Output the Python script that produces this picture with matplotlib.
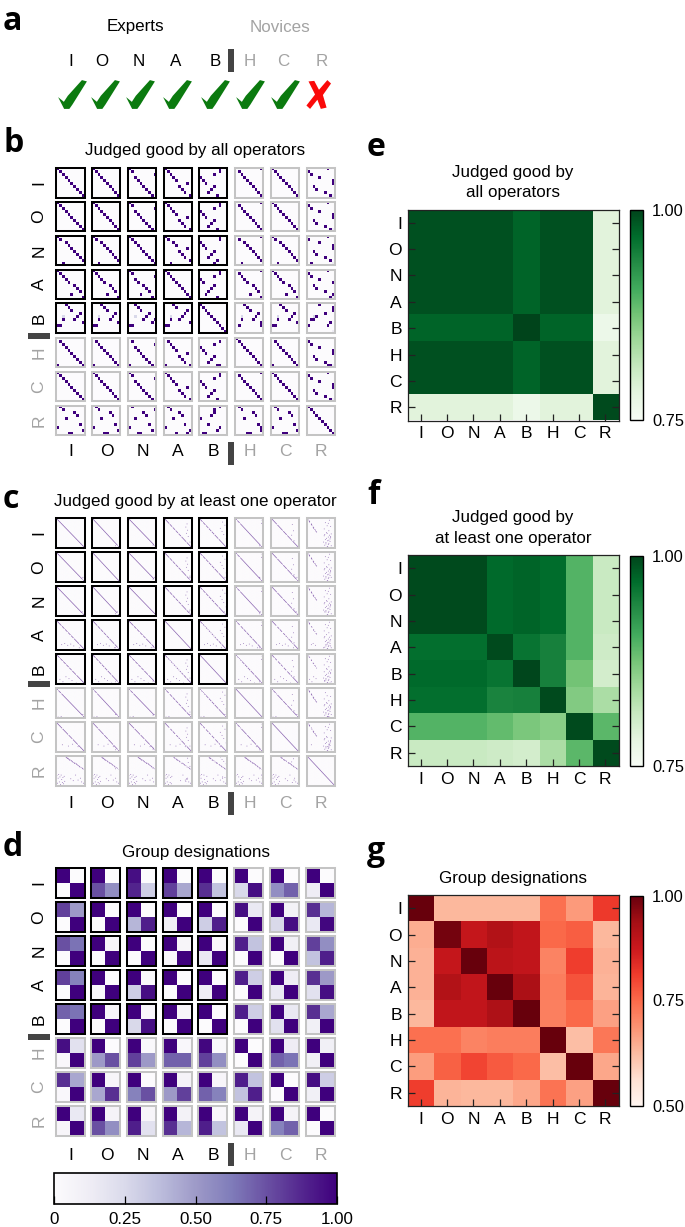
import numpy as np
import matplotlib
matplotlib.use("Agg")
import matplotlib.pyplot as plt
from matplotlib.path import Path
from matplotlib.patches import Rectangle

plt.rcParams['font.family'] = ['Liberation Sans', 'DejaVu Sans']

W, H = 685, 1227
operators = ['I', 'O', 'N', 'A', 'B', 'H', 'C', 'R']
n_experts = 5
verdicts = [1, 1, 1, 1, 1, 1, 1, 0]
GRAY = '#a3a3a3'
BAR = '#444444'
CELL_BORDER = '#c4c4c4'

# panel b: group index of each of ten units under each operator
b_labels = {
    'I': [0, 1, 2, 3, 4, 5, 6, 7, 8, 9],
    'O': [0, 1, 2, 3, 4, 5, 6, 7, 8, 9],
    'N': [0, 1, 9, 2, 3, 4, 5, 6, 7, 8],
    'A': [0, 1, 2, 3, 4, 8, 5, 6, 7, 9],
    'B': [7, 7, 5, 0, 1, 2, 5, 4, 3, 6],
    'H': [9, 1, 2, 3, 4, 5, 6, 7, 8, 9],
    'C': [0, 1, 2, 3, 4, 5, 6, 7, 8, 9],
    'R': [7, 0, 1, 4, 9, 9, 2, 3, 6, 8],
}

# panel c: position of each of 48 units in each operator's ordering
c_ranks = {
    'I': [0, 1, 2, 3, 4, 5, 6, 7, 8, 9, 10, 11, 12, 13, 14, 15, 16, 17, 18, 19, 20, 21, 22, 23,
          24, 25, 26, 27, 28, 29, 30, 31, 32, 33, 34, 35, 36, 37, 38, 39, 40, 41, 42, 43, 44, 45, 46, 47],
    'O': [0, 1, 2, 3, 4, 5, 6, 7, 8, 9, 10, 11, 12, 13, 14, 15, 16, 17, 18, 19, 20, 21, 22, 23,
          24, 25, 26, 27, 28, 29, 30, 31, 32, 33, 34, 35, 36, 37, 38, 39, 40, 41, 42, 43, 40, 45, 46, 47],
    'N': [0, 1, 2, 3, 4, 5, 6, 7, 8, 9, 10, 11, 12, 13, 14, 15, 16, 17, 18, 19, 20, 21, 22, 23,
          24, 25, 26, 27, 28, 29, 30, 31, 32, 33, 34, 35, 36, 37, 38, 39, 40, 41, 42, 41, 44, 45, 46, 47],
    'A': [0, 1, 2, 3, 4, 5, 6, 7, 8, 39, 10, 11, 12, 13, 37, 15, 16, 17, 18, 40, 20, 21, 22, 23,
          38, 25, 26, 27, 28, 41, 30, 31, 32, 33, 34, 35, 36, 37, 44, 39, 40, 41, 42, 43, 44, 45, 46, 47],
    'B': [0, 1, 2, 3, 4, 5, 40, 7, 8, 9, 10, 44, 12, 13, 14, 15, 36, 17, 18, 19, 20, 39, 22, 23,
          24, 25, 42, 27, 28, 29, 30, 31, 32, 46, 34, 35, 36, 37, 38, 39, 40, 41, 42, 43, 44, 45, 46, 47],
    'H': [0, 1, 2, 46, 4, 5, 6, 7, 45, 9, 10, 11, 12, 13, 14, 15, 16, 17, 18, 19, 20, 21, 22, 23,
          24, 25, 26, 27, 28, 29, 30, 31, 32, 33, 34, 35, 36, 37, 38, 39, 40, 41, 42, 43, 42, 45, 46, 47],
    'C': [0, 1, 2, 3, 4, 5, 6, 7, 8, 9, 36, 11, 12, 13, 14, 15, 16, 17, 18, 19, 38, 21, 22, 23,
          24, 25, 26, 35, 28, 29, 30, 31, 32, 33, 34, 35, 39, 37, 38, 39, 40, 41, 42, 43, 44, 45, 46, 47],
    'R': [0, 1, 1, 38, 3, 4, 4, 31, 36, 7, 7, 8, 34, 40, 10, 11, 11, 29, 13, 14, 37, 15, 16, 33,
          34, 41, 30, 38, 29, 40, 36, 40, 33, 39, 31, 37, 35, 39, 28, 32, 37, 32, 36, 30, 41, 35, 34, 38],
}
# operator R read as a row differs from R read as a column in the picture
c_R_as_row = [38, 31, 43, 35, 29, 41, 33, 45, 30, 37, 42, 34, 44, 32, 40, 0, 1, 2, 3, 3, 4, 5, 6, 6,
              36, 7, 8, 9, 39, 10, 11, 11, 30, 12, 13, 14, 38, 15, 16, 17, 35, 18, 41, 19, 20, 43, 21, 37]

# panel d: 2x2 group confusion matrices, row operator by column operator, as
# (top left, top right, bottom left, bottom right)
d_cells = [
    [(1, 0, 0, 1), (1, 0, .75, .55), (.95, 0, .88, .3), (1, 0, .8, .45), (1, 0, .85, .35), (1, 0, .25, .95), (1, 0, .55, .7), (1, 0, .12, 1)],
    [(.8, .5, 0, 1), (1, 0, 0, 1), (1, 0, .4, .9), (1, 0, .1, 1), (1, 0, .3, .9), (.95, .15, 0, 1), (1, .08, .25, .95), (.85, .4, .15, .98)],
    [(.75, .65, 0, 1), (1, .05, 0, 1), (1, 0, 0, 1), (1, .05, .03, 1), (1, .03, .15, 1), (.9, .35, 0, 1), (1, .1, 0, 1), (.8, .55, .35, .9)],
    [(.8, .6, 0, 1), (1, 0, .02, 1), (1, .02, .3, .95), (1, 0, 0, 1), (1, 0, .12, 1), (.9, .3, 0, 1), (1, .12, .15, 1), (.85, .5, .2, .95)],
    [(.7, .65, 0, 1), (1, .05, 0, 1), (1, .03, .25, .95), (1, .05, 0, 1), (1, 0, 0, 1), (.9, .3, 0, 1), (1, .15, .2, 1), (.85, .45, .1, 1)],
    [(.95, .2, .03, 1), (1, 0, .5, .75), (1, .02, .8, .5), (1, .03, .7, .7), (.98, .02, .8, .55), (1, 0, 0, 1), (1, .12, .7, .65), (1, .1, .1, 1)],
    [(.85, .45, .03, 1), (1, .05, .45, .85), (1, 0, .6, .75), (1, .07, .5, .8), (1, .05, .7, .6), (.9, .35, .35, .9), (1, 0, 0, 1), (.95, .3, .1, 1)],
    [(1, .15, .05, 1), (1, .07, .75, .55), (1, .05, .9, .2), (1, .08, .85, .4), (1, .03, .9, .35), (1, .07, .15, 1), (1, .07, .6, .7), (1, 0, 0, 1)],
]

e_values = [
    [.99, .99, .99, .99, .975, .99, .99, .785],
    [.99, .99, .99, .99, .975, .99, .99, .785],
    [.99, .99, .99, .99, .975, .99, .99, .785],
    [.99, .99, .99, .99, .975, .99, .99, .785],
    [.975, .975, .975, .975, 1.0, .975, .975, .768],
    [.99, .99, .99, .99, .975, .99, .99, .785],
    [.99, .99, .99, .99, .975, .99, .99, .785],
    [.785, .785, .785, .785, .768, .785, .785, .995],
]
f_values = [
    [.995, .995, .995, .97, .975, .968, .895, .81],
    [.995, .995, .995, .97, .975, .968, .895, .81],
    [.995, .995, .995, .97, .975, .968, .895, .81],
    [.965, .965, .965, .995, .96, .948, .895, .805],
    [.97, .97, .97, .96, .998, .948, .875, .80],
    [.965, .965, .965, .945, .948, .995, .865, .835],
    [.895, .895, .895, .885, .87, .86, .995, .89],
    [.81, .81, .81, .805, .80, .835, .89, .995],
]
g_values = [
    [1.0, .63, .63, .63, .63, .74, .675, .815],
    [.645, .985, .885, .915, .89, .75, .765, .63],
    [.64, .885, 1.0, .90, .89, .71, .81, .64],
    [.64, .915, .89, 1.0, .925, .72, .78, .635],
    [.63, .89, .89, .92, 1.0, .715, .75, .665],
    [.74, .74, .71, .72, .72, 1.0, .62, .73],
    [.67, .76, .80, .77, .75, .62, 1.0, .655],
    [.81, .635, .63, .63, .655, .735, .665, 1.0],
]

fig = plt.figure(figsize=(W / 100, H / 100), dpi=100)


def px_axes(x0, y0, x1, y1, **kw):
    return fig.add_axes([x0 / W, 1 - y1 / H, (x1 - x0) / W, (y1 - y0) / H], **kw)


def label(x, y, s, size=12.25, color='black', **kw):
    kw.setdefault('ha', 'center')
    kw.setdefault('va', 'center')
    fig.text(x / W, 1 - y / H, s, fontsize=size, color=color, **kw)


def bar(x0, y0, x1, y1):
    fig.add_artist(Rectangle((x0 / W, 1 - y1 / H), (x1 - x0) / W, (y1 - y0) / H,
                             transform=fig.transFigure, facecolor=BAR, edgecolor='none'))


# ---- panel a
label(135, 27, 'Experts')
label(280, 27, 'Novices', color=GRAY)
a_x = [71, 102, 139, 176, 215, 250, 283, 322]
mark_x = [72, 105, 140, 177, 215, 250, 285, 319]
for k, (x, name) in enumerate(zip(a_x, operators)):
    label(x, 62, name, color='black' if k < n_experts else GRAY)
bar(228, 49, 233.5, 72)
overlay = px_axes(0, 0, W, H)
overlay.set_xlim(0, W)
overlay.set_ylim(H, 0)
overlay.axis('off')
overlay.set_zorder(5)
check = Path([(-.55, -.1), (-.33, -.28), (-.18, -.05), (.36, .55), (.55, .5), (.0, -.38),
              (-.12, -.55), (-.32, -.55), (-.55, -.1)], closed=True)
cross = Path([(-.42, .5), (-.2, .52), (-.02, .18), (.3, .55), (.44, .42), (.13, -.02), (.27, -.5),
              (.05, -.55), (-.08, -.2), (-.36, -.55), (-.5, -.42), (-.17, 0), (-.42, .5)], closed=True)
for x, v in zip(mark_x, verdicts):
    overlay.scatter([x], [93.5], marker=check if v else cross, s=430 if v else 430,
                    color='#0b7a0f' if v else '#fa0a0a', linewidths=0)

# ---- panel letters
for s, x, y in [('a', 3, 18), ('b', 3, 139), ('c', 3, 495), ('d', 3, 843),
                ('e', 367, 144), ('f', 367, 491), ('g', 367, 847)]:
    label(x, y, s, size=23, family='Open Sans', weight='bold', ha='left', va='center_baseline')


def b_matrix(i, j):
    n = 10
    m = np.zeros((n, n))
    if i == j:
        return np.eye(n)
    for r, c in zip(b_labels[operators[i]], b_labels[operators[j]]):
        m[r, c] = 1
    if i == 4:
        m[4, 2] = max(m[4, 2], .25)
    if j == 7:
        m[9, 9] = max(m[9, 9], .12)
    return m


def c_matrix(i, j):
    n = 48
    m = np.zeros((n, n))
    if i == j:
        return np.eye(n)
    rows = c_R_as_row if i == 7 else c_ranks[operators[i]]
    for r, c in zip(rows, c_ranks[operators[j]]):
        m[r, c] = 1
    return m


def d_matrix(i, j):
    tl, tr, bl, br = d_cells[i][j]
    return np.array([[tl, tr], [bl, br]])


col_x0 = [55.5, 91, 127, 162.5, 198, 234, 270, 305.5]
CW = 30
INSET = 1.0


def grid(matfun, y0, y_step, interp, title, title_y, label_y, bar_y, row_bar_y, x_off=0, cell_h=31.5, lw=1.45, vmax=1.0, cw=CW):
    for i in range(8):
        for j in range(8):
            x = col_x0[j] + x_off
            y = y0[i] if hasattr(y0, '__len__') else y0 + i * y_step
            ax = px_axes(x + INSET, y + INSET, x + cw - INSET, y + cell_h - INSET)
            ax.imshow(matfun(i, j), cmap='Purples', vmin=0, vmax=vmax, interpolation=interp, aspect='auto')
            ax.set_xticks([])
            ax.set_yticks([])
            expert = i < n_experts and j < n_experts
            for sp in ax.spines.values():
                sp.set_linewidth(lw)
                sp.set_color('black' if expert else CELL_BORDER)
            ax.set_zorder(2 if expert else 1)
    label(195.5, title_y, title)
    first = y0[0] if hasattr(y0, '__len__') else y0
    for k, name in enumerate(operators):
        c = 'black' if k < n_experts else GRAY
        label(col_x0[k] + CW / 2 + .5, label_y, name, color=c, size=12.6)
        yy = (y0[k] if hasattr(y0, '__len__') else first + k * y_step) + cell_h / 2
        label(39, yy, name, color=c, rotation=90, size=12.6)
    bar(228, bar_y, 233.5, bar_y + 23)
    bar(28, row_bar_y - 3, 49.5, row_bar_y + 3)


grid(b_matrix, [167, 200.7, 234.7, 268.7, 302.5, 336.7, 370.7, 404.7], 0, 'nearest',
     'Judged good by all operators', 151, 452, 442, 335.5)
grid(c_matrix, 517.3, 34, 'antialiased', 'Judged good by at least one operator', 501, 803, 792, 684, vmax=.7)
grid(d_matrix, 867.3, 34, 'nearest', 'Group designations', 853, 1155, 1143, 1037, x_off=-1, cw=31)

# ---- purple colour bar
cax = px_axes(54, 1173, 337, 1204)
sm = plt.cm.ScalarMappable(norm=plt.Normalize(0, 1), cmap='Purples')
cb = fig.colorbar(sm, cax=cax, orientation='horizontal', ticks=[0, .25, .5, .75, 1])
cb.ax.set_xticklabels(['0', '0.25', '0.50', '0.75', '1.00'], fontsize=12.25)
cb.ax.tick_params(axis='x', direction='in', length=6, width=.9, pad=6, color='black')
cb.outline.set_linewidth(1.2)


# ---- heat maps
def heat(vals, y0, cmap, vmin, ticks, ticklabels, title, title_ys):
    ax = px_axes(407.5, y0, 618.5, y0 + 211)
    im = ax.imshow(np.array(vals), cmap=cmap, vmin=vmin, vmax=1.0, interpolation='nearest', aspect='auto')
    ax.set_xticks(range(8), operators, fontsize=12.6)
    ax.set_yticks(range(8), operators, fontsize=12.6)
    ax.tick_params(direction='in', length=5, width=.9, left=True, right=True, bottom=True, top=False, pad=4,
                   color='#222222')
    for sp in ax.spines.values():
        sp.set_linewidth(.9)
        sp.set_color('#222222')
    for t, yy in zip(title, title_ys):
        label(513, yy, t)
    c = px_axes(630, y0 + .5, 642.5, y0 + 210.5)
    cbar = fig.colorbar(im, cax=c, ticks=ticks)
    cbar.ax.set_yticklabels(ticklabels, fontsize=11.8)
    cbar.ax.tick_params(length=0, pad=7)
    cbar.outline.set_linewidth(1.0)


heat(e_values, 209.5, 'Greens', .75, [.75, 1], ['0.75', '1.00'], ['Judged good by', 'all operators'], [172.5, 192])
heat(f_values, 555, 'Greens', .75, [.75, 1], ['0.75', '1.00'], ['Judged good by', 'at least one operator'], [517.5, 538])
heat(g_values, 895, 'Reds', .5, [.5, .75, 1], ['0.50', '0.75', '1.00'], ['Group designations'], [879])

fig.savefig('out.png', dpi=100)
